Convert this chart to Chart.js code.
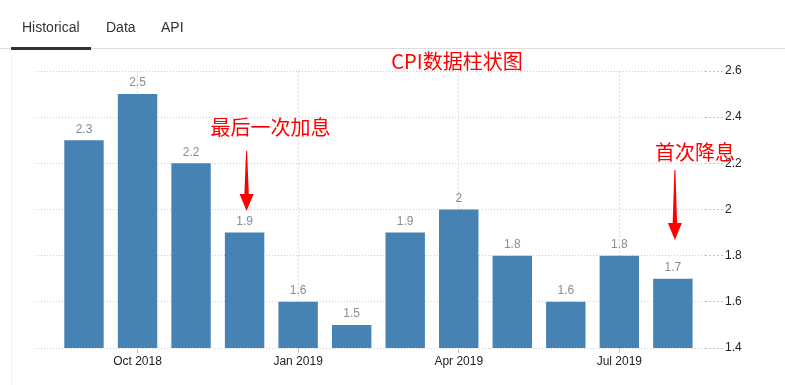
<!DOCTYPE html>
<html>
<head>
<meta charset="utf-8">
<script src="https://cdn.jsdelivr.net/npm/chart.js@4/dist/chart.umd.min.js"></script>
<style>
  html, body { margin: 0; padding: 0; background: #fff; }
  #wrap { position: relative; width: 785px; height: 385px; overflow: hidden; font-family: "Liberation Sans", Arial, sans-serif; }
  #box { position: absolute; left: 0; top: 0; width: 785px; height: 385px; }
  .tab { position: absolute; top: 19px; font-size: 14px; color: #333; }
  #tabline { position: absolute; left: 0; top: 48px; width: 785px; height: 1px; background: #ddd; }
  #tabsel { position: absolute; left: 11px; top: 47px; width: 80px; height: 3px; background: #333; }
  #panel { position: absolute; left: 11px; top: 55px; width: 1px; height: 330px; background: #f3f3f3; }
</style>
</head>
<body>
<div id="wrap">
  <div id="panel"></div>
  <div id="box"><canvas id="myBar"></canvas></div>
  <div class="tab" style="left:22px">Historical</div>
  <div class="tab" style="left:106px">Data</div>
  <div class="tab" style="left:161px">API</div>
  <div id="tabline"></div>
  <div id="tabsel"></div>
</div>
<script>
// months shown (Sep 2018 .. Aug 2019)
var months = ["Sep 2018", "Oct 2018", "Nov 2018", "Dec 2018", "Jan 2019", "Feb 2019",
              "Mar 2019", "Apr 2019", "May 2019", "Jun 2019", "Jul 2019", "Aug 2019"];
var cpiValues = [2.3, 2.5, 2.2, 1.9, 1.6, 1.5, 1.9, 2.0, 1.8, 1.6, 1.8, 1.7];
var xTickIndex = [1, 4, 7, 10];
var xTickLabels = ["Oct 2018", "Jan 2019", "Apr 2019", "Jul 2019"];
var yTickValues = [1.4, 1.6, 1.8, 2.0, 2.2, 2.4, 2.6];
var yTickLabels = ["1.4", "1.6", "1.8", "2", "2.2", "2.4", "2.6"];
var chartTitle = "CPI数据柱状图";
var notes = [
  { text: "最后一次加息", index: 3 },
  { text: "首次降息", index: 11 }
];

var points = [];
for (var i = 0; i < cpiValues.length; i++) {
  points.push({ x: i, y: cpiValues[i] });
}

var red = "#ff0000";
var labelFont = "12px 'Liberation Sans', Arial, sans-serif";
var cjkFont = "20px 'Noto Sans CJK SC', sans-serif";

// value labels above bars
var valueLabels = {
  id: "valueLabels",
  afterDatasetsDraw: function(chart) {
    var ctx = chart.ctx;
    var meta = chart.getDatasetMeta(0);
    ctx.save();
    ctx.font = labelFont;
    ctx.fillStyle = "#8c8c8c";
    ctx.textAlign = "center";
    ctx.textBaseline = "bottom";
    meta.data.forEach(function(bar, i) {
      ctx.fillText(String(cpiValues[i]), bar.x, bar.y - 5);
    });
    ctx.restore();
  }
};

function drawArrow(ctx, x, top, tip) {
  var headLen = 17, headHalf = 7;
  ctx.beginPath();
  ctx.moveTo(x - 0.5, top);
  ctx.lineTo(x + 0.5, top);
  ctx.lineTo(x + 2.2, tip - headLen);
  ctx.lineTo(x + headHalf, tip - headLen);
  ctx.lineTo(x, tip);
  ctx.lineTo(x - headHalf, tip - headLen);
  ctx.lineTo(x - 2.2, tip - headLen);
  ctx.closePath();
  ctx.fill();
}

// title + notes with arrows
var notesPlugin = {
  id: "notesPlugin",
  afterDraw: function(chart) {
    var ctx = chart.ctx;
    var xs = chart.scales.x;
    ctx.save();
    ctx.fillStyle = red;
    ctx.font = cjkFont;
    ctx.textAlign = "center";
    ctx.textBaseline = "middle";
    ctx.fillText(chartTitle, 457, 61);

    var place = [
      { dx: 24, ty: 127, top: 151, tip: 211 },
      { dx: 20, ty: 152, top: 170, tip: 240 }
    ];
    notes.forEach(function(n, k) {
      var x = xs.getPixelForValue(n.index) + 2;
      ctx.fillText(n.text, x + place[k].dx, place[k].ty);
      drawArrow(ctx, x, place[k].top, place[k].tip);
    });
    ctx.restore();
  }
};

var myBar = new Chart("myBar", {
  type: "bar",
  data: {
    datasets: [{
      data: points,
      backgroundColor: "#4682b4",
      borderWidth: 0,
      categoryPercentage: 0.8,
      barPercentage: 0.92
    }]
  },
  options: {
    responsive: true,
    maintainAspectRatio: false,
    animation: false,
    layout: { padding: { top: 71, left: 35, right: 0, bottom: 0 } },
    plugins: {
      legend: { display: false },
      tooltip: { enabled: false }
    },
    scales: {
      x: {
        type: "linear",
        offset: false,
        min: -0.915,
        max: 11.6,
        afterBuildTicks: function(scale) {
          scale.ticks = xTickIndex.map(function(v) { return { value: v }; });
        },
        afterFit: function(scale) { scale.height = 37; },
        ticks: {
          autoSkip: false,
          maxRotation: 0,
          padding: 1,
          color: "#222",
          font: { family: "'Liberation Sans', Arial, sans-serif", size: 12 },
          callback: function(v) {
            var k = xTickIndex.indexOf(v);
            return k >= 0 ? xTickLabels[k] : "";
          }
        },
        grid: { offset: false, color: "#dcdcdc", tickLength: 5, tickColor: "#c4c4c4" },
        border: { display: false, dash: [2, 2] }
      },
      y: {
        position: "right",
        min: 1.4,
        max: 2.6,
        afterBuildTicks: function(scale) {
          scale.ticks = yTickValues.map(function(v) { return { value: v }; });
        },
        afterFit: function(scale) { scale.width = 80; },
        ticks: {
          padding: 2,
          color: "#222",
          font: { family: "'Liberation Sans', Arial, sans-serif", size: 12 },
          callback: function(v) {
            for (var j = 0; j < yTickValues.length; j++) {
              if (Math.abs(yTickValues[j] - v) < 1e-6) return yTickLabels[j];
            }
            return "";
          }
        },
        grid: { color: "#cfcfcf", tickLength: 18, tickColor: "#c4c4c4", tickBorderDash: [2, 2] },
        border: { display: false, dash: [1, 2] }
      }
    }
  },
  plugins: [valueLabels, notesPlugin]
});
</script>
</body>
</html>
